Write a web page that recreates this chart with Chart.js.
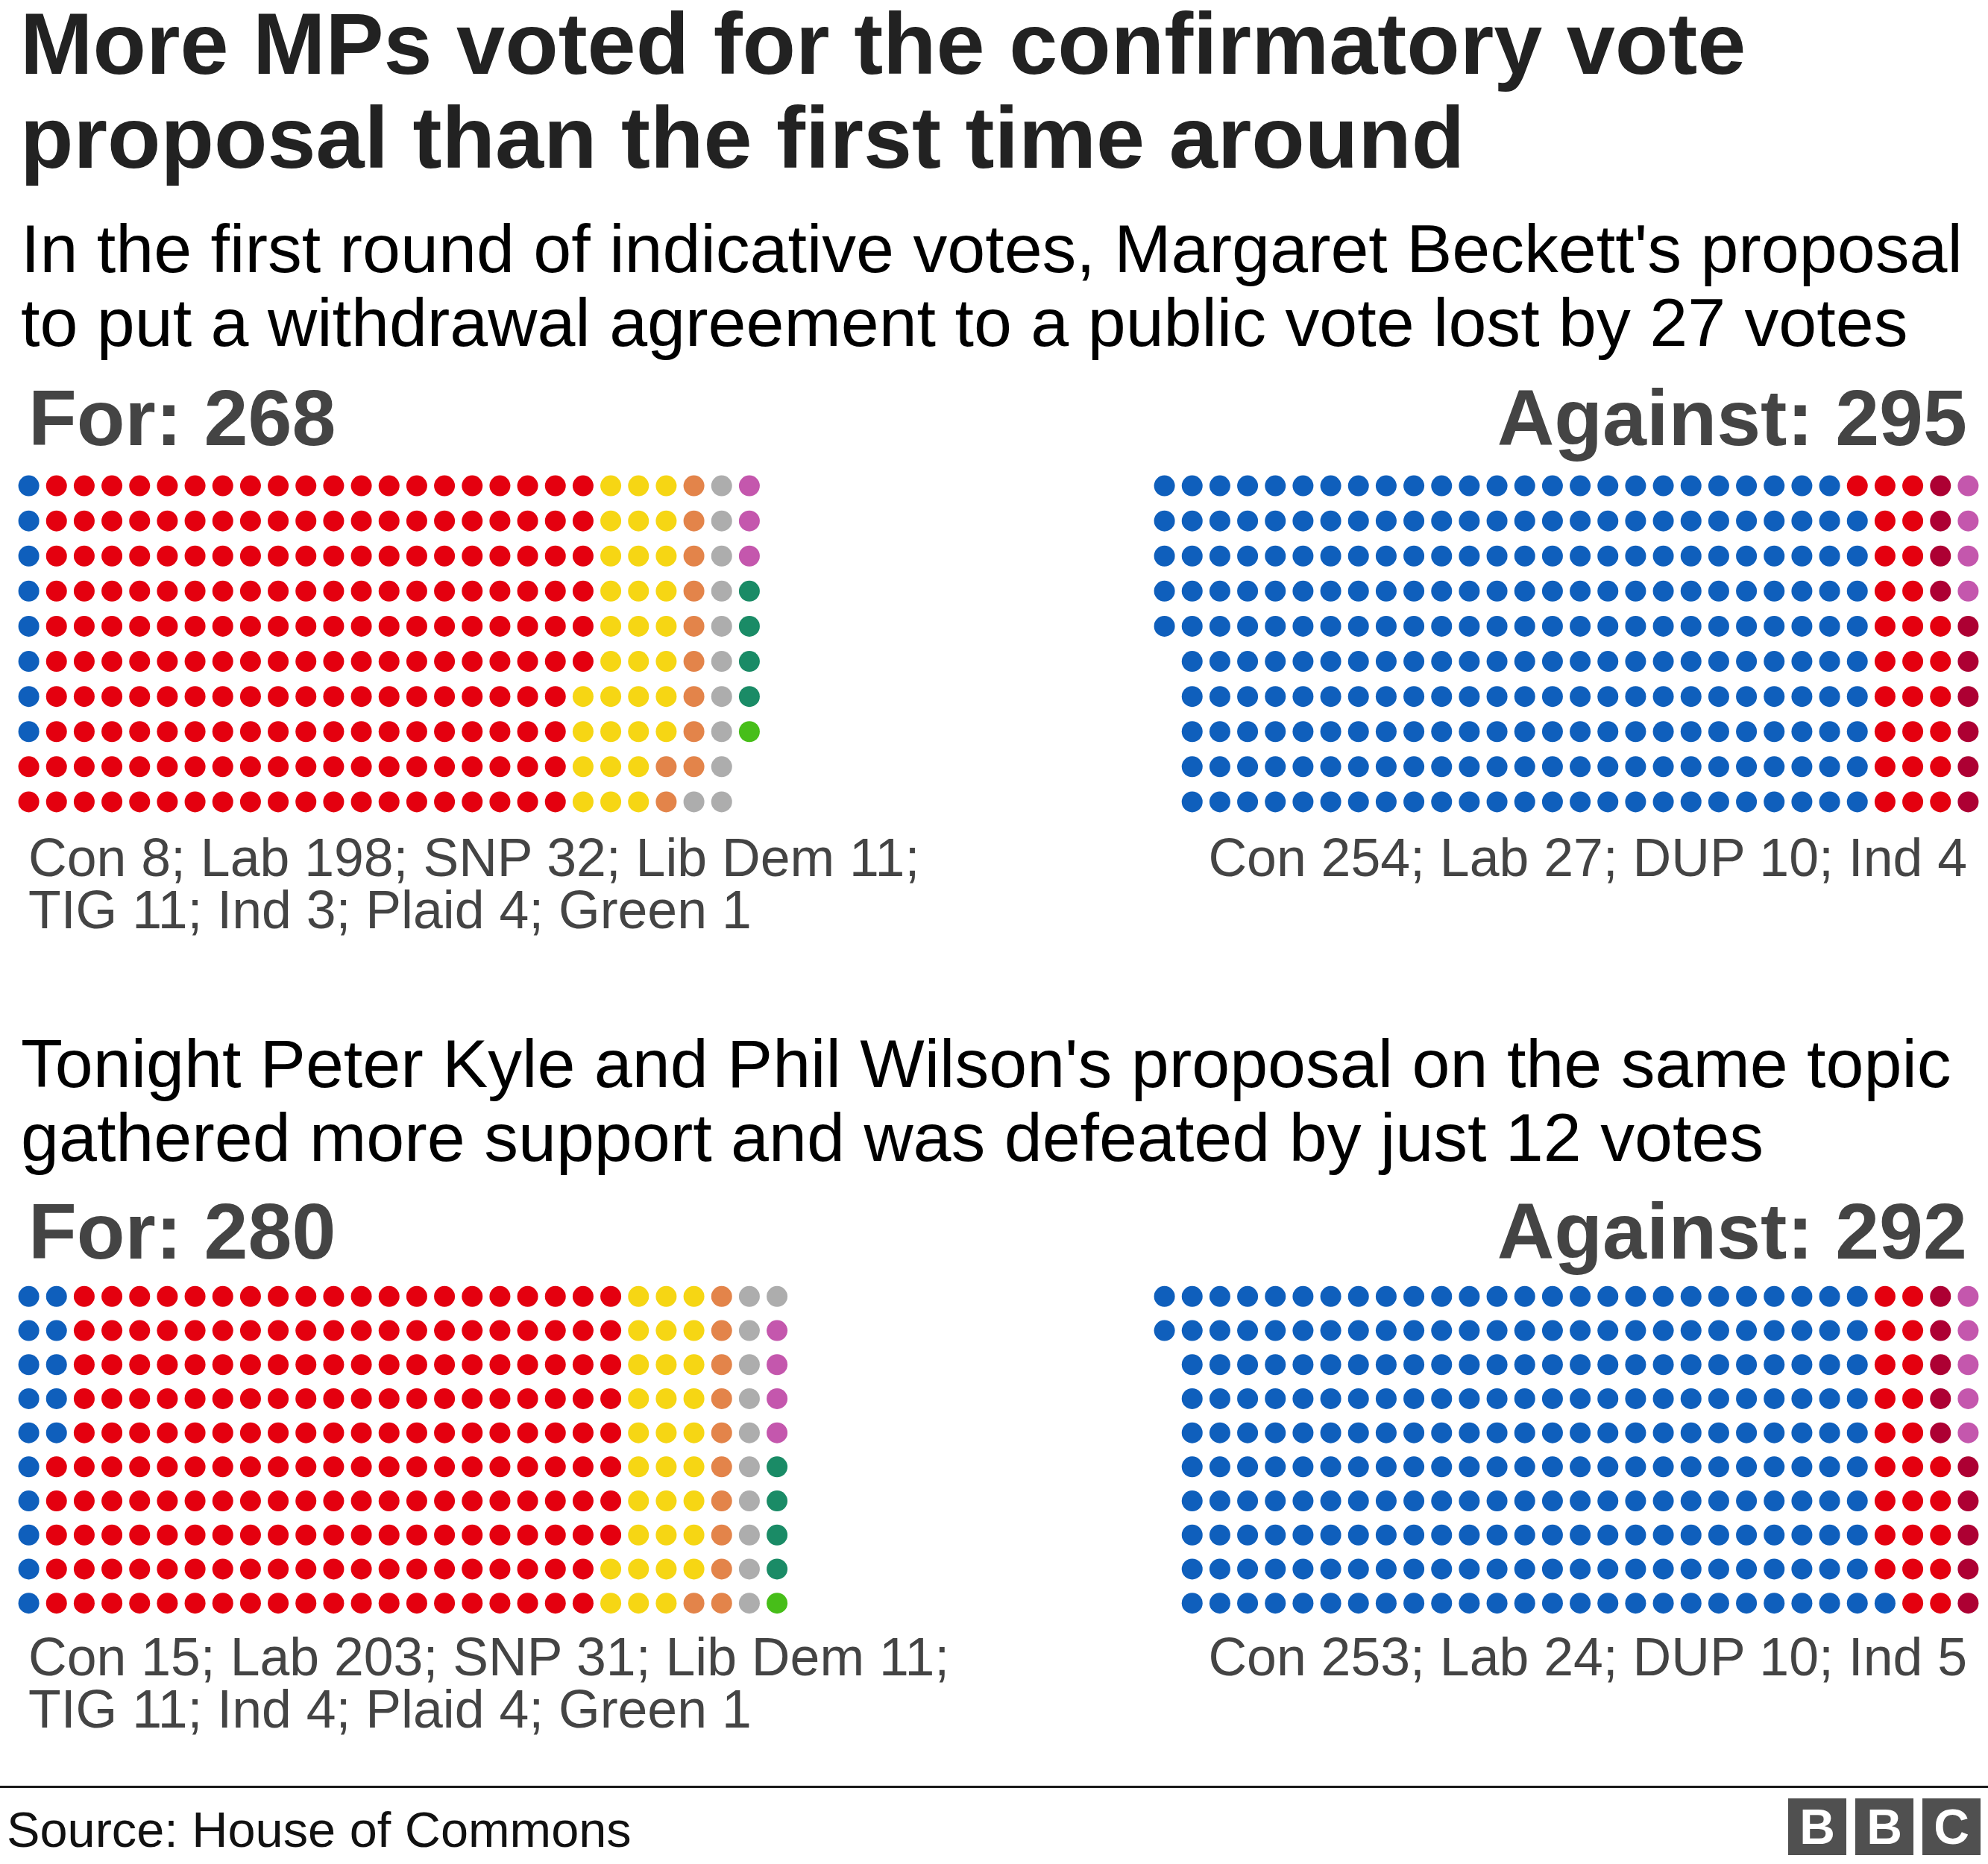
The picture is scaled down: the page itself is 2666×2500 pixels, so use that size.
<!DOCTYPE html>
<html>
<head>
    <meta charset="UTF-8">
    <title>Confirmatory vote dot chart</title>
    <script src="https://cdn.jsdelivr.net/npm/chart.js@4.4.1/dist/chart.umd.min.js"></script>
    <style>
        body { margin: 0; background: #fff; font-family: "Liberation Sans", Arial, Helvetica, sans-serif; }
        #page { position: relative; width: 2666px; height: 2500px; overflow: hidden; }
        .txt { position: absolute; white-space: nowrap; }
        .title { left: 27px; top: -4px; font-size: 117px; line-height: 126px; font-weight: bold; color: #222; }
        .sub { left: 28px; font-size: 91.6px; line-height: 99px; color: #000; }
        .count { font-size: 106px; line-height: 106px; font-weight: bold; color: #444; }
        .parties { font-size: 71.6px; line-height: 70px; color: #444; }
        .left { left: 38px; }
        .right { right: 28px; text-align: right; }
        canvas { position: absolute; }
        #rule { position: absolute; left: 0; top: 2395px; width: 2666px; height: 3px; background: #1a1a1a; }
        #source { left: 9px; top: 2421px; font-size: 66.7px; line-height: 66px; color: #111; }
        .bbc { position: absolute; top: 2412px; width: 78px; height: 76px; background: #505050; color: #fff;
               font-weight: bold; font-size: 66px; line-height: 76px; text-align: center; }
    </style>
</head>
<body>
<div id="page">
    <div class="txt title">More MPs voted for the confirmatory vote<br>proposal than the first time around</div>
    <div class="txt sub" style="top:284px">In the first round of indicative votes, Margaret Beckett's proposal<br>to put a withdrawal agreement to a public vote lost by 27 votes</div>
    <div class="txt sub" style="top:1377px">Tonight Peter Kyle and Phil Wilson's proposal on the same topic<br>gathered more support and was defeated by just 12 votes</div>

    <div class="txt count left" id="for1" style="top:507px"></div>
    <div class="txt count right" id="against1" style="top:507px"></div>
    <div class="txt count left" id="for2" style="top:1598px"></div>
    <div class="txt count right" id="against2" style="top:1598px"></div>

    <canvas id="dotsFor1" width="1115" height="471" style="left:20px; top:628px"></canvas>
    <canvas id="dotsAgainst1" width="1115" height="471" style="left:1543px; top:628px"></canvas>
    <canvas id="dotsFor2" width="1115" height="457" style="left:20px; top:1716px"></canvas>
    <canvas id="dotsAgainst2" width="1115" height="457" style="left:1543px; top:1716px"></canvas>

    <div class="txt parties left" id="forParties1" style="top:1115px"></div>
    <div class="txt parties right" id="againstParties1" style="top:1115px"></div>
    <div class="txt parties left" id="forParties2" style="top:2187px"></div>
    <div class="txt parties right" id="againstParties2" style="top:2187px"></div>

    <div id="rule"></div>
    <div class="txt" id="source">Source: House of Commons</div>
    <div class="bbc" style="left:2398px">B</div>
    <div class="bbc" style="left:2488px">B</div>
    <div class="bbc" style="left:2578px">C</div>
</div>

<script>
    // First round (Margaret Beckett's proposal)
    var forNames1 = ['Con', 'Lab', 'SNP', 'Lib Dem', 'TIG', 'Ind', 'Plaid', 'Green'];
    var forVotes1 = [8, 198, 32, 11, 11, 3, 4, 1];
    var againstNames1 = ['Con', 'Lab', 'DUP', 'Ind'];
    var againstVotes1 = [254, 27, 10, 4];

    // Tonight (Peter Kyle and Phil Wilson's proposal)
    var forNames2 = ['Con', 'Lab', 'SNP', 'Lib Dem', 'TIG', 'Ind', 'Plaid', 'Green'];
    var forVotes2 = [15, 203, 31, 11, 11, 4, 4, 1];
    var againstNames2 = ['Con', 'Lab', 'DUP', 'Ind'];
    var againstVotes2 = [253, 24, 10, 5];

    var partyColours = {
        'Con': '#0f5fbc',
        'Lab': '#e4000f',
        'SNP': '#f6d614',
        'Lib Dem': '#e3844a',
        'TIG': '#adadad',
        'Ind': '#c457ad',
        'Plaid': '#1a8b66',
        'Green': '#47be19',
        'DUP': '#ad0033'
    };

    var ROWS = 10;
    var COLS = 30;

    function total(votes) {
        return votes.reduce(function(a, b) { return a + b; }, 0);
    }

    // Build one dataset per party. "For" fills columns left to right, top to bottom.
    // "Against" starts with the last party in the rightmost column and works leftwards.
    function buildDatasets(names, votes, fromRight) {
        var order = names.map(function(n, i) { return i; });
        if (fromRight) order.reverse();
        var seat = 0;
        var datasets = [];
        order.forEach(function(i) {
            var pts = [];
            for (var k = 0; k < votes[i]; k++) {
                var col = Math.floor(seat / ROWS);
                var row = seat % ROWS;
                pts.push({ x: fromRight ? COLS - 1 - col : col, y: row });
                seat++;
            }
            datasets.push({
                label: names[i],
                data: pts,
                backgroundColor: partyColours[names[i]],
                borderWidth: 0,
                pointRadius: 14,
                pointHoverRadius: 14
            });
        });
        return datasets;
    }

    function drawDots(canvasId, names, votes, fromRight) {
        var ctx = document.getElementById(canvasId).getContext('2d');
        new Chart(ctx, {
            type: 'scatter',
            data: { datasets: buildDatasets(names, votes, fromRight) },
            options: {
                responsive: false,
                animation: false,
                events: [],
                // no automatic padding, so the grid fills the whole canvas
                layout: { padding: 0, autoPadding: false },
                plugins: { legend: { display: false }, tooltip: { enabled: false } },
                scales: {
                    x: { type: 'linear', display: false, min: -0.5, max: COLS - 0.5 },
                    y: { type: 'linear', display: false, min: -0.5, max: ROWS - 0.5, reverse: true }
                }
            }
        });
    }

    function breakdown(names, votes, breakAfter) {
        var parts = names.map(function(n, i) { return n + ' ' + votes[i]; });
        if (!breakAfter) return parts.join('; ');
        return parts.slice(0, breakAfter).join('; ') + ';<br>' + parts.slice(breakAfter).join('; ');
    }

    document.getElementById('for1').textContent = 'For: ' + total(forVotes1);
    document.getElementById('against1').textContent = 'Against: ' + total(againstVotes1);
    document.getElementById('for2').textContent = 'For: ' + total(forVotes2);
    document.getElementById('against2').textContent = 'Against: ' + total(againstVotes2);

    document.getElementById('forParties1').innerHTML = breakdown(forNames1, forVotes1, 4);
    document.getElementById('againstParties1').innerHTML = breakdown(againstNames1, againstVotes1, 0);
    document.getElementById('forParties2').innerHTML = breakdown(forNames2, forVotes2, 4);
    document.getElementById('againstParties2').innerHTML = breakdown(againstNames2, againstVotes2, 0);

    drawDots('dotsFor1', forNames1, forVotes1, false);
    drawDots('dotsAgainst1', againstNames1, againstVotes1, true);
    drawDots('dotsFor2', forNames2, forVotes2, false);
    drawDots('dotsAgainst2', againstNames2, againstVotes2, true);
</script>
</body>
</html>
